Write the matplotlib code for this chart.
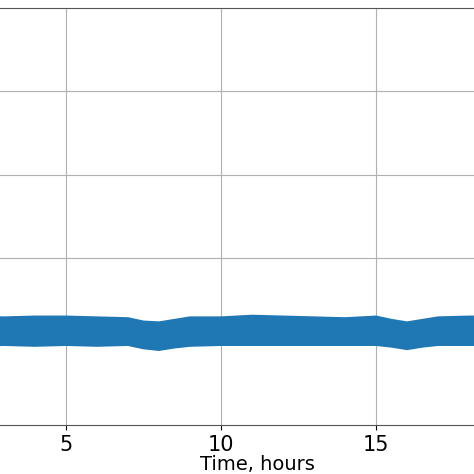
import matplotlib
matplotlib.use("Agg")
import matplotlib.pyplot as plt

hours = [0, 1, 2, 3, 4, 5, 6, 7, 7.5, 8, 8.5, 9, 10, 11, 12, 13, 14, 15, 15.5, 16, 16.5, 17, 18, 19, 20, 21, 22]
upper = [1.29, 1.29, 1.30, 1.29, 1.30, 1.30, 1.29, 1.28, 1.24, 1.23, 1.26, 1.29, 1.29, 1.31, 1.30, 1.29, 1.28, 1.30, 1.26, 1.23, 1.26, 1.29, 1.30, 1.30, 1.29, 1.30, 1.29]
lower = [0.96, 0.96, 0.95, 0.96, 0.95, 0.96, 0.95, 0.96, 0.92, 0.90, 0.93, 0.95, 0.96, 0.96, 0.96, 0.96, 0.96, 0.96, 0.94, 0.91, 0.94, 0.96, 0.96, 0.96, 0.95, 0.96, 0.96]
xticks = [5, 10, 15]

fig = plt.figure(figsize=(4.74, 4.74), dpi=100)
ax = fig.add_axes([-89/474, 49/474, 692/474, 417/474])
ax.set_axisbelow(True)
ax.fill_between(hours, lower, upper, color="#1f77b4", linewidth=1.5, edgecolor="#1f77b4", zorder=3)
ax.set_xlim(0, 692/31)
ax.set_ylim(0, 5)
ax.set_xticks(xticks)
ax.set_yticks([1, 2, 3, 4])
ax.set_yticklabels([])
ax.tick_params(axis="x", labelsize=15)
ax.grid(True, color="#b0b0b0", linewidth=0.8)
ax.set_xlabel("Time, hours", fontsize=14, labelpad=0)
for s in ax.spines.values():
    s.set_color("#555555")
fig.savefig("out.png", dpi=100)
